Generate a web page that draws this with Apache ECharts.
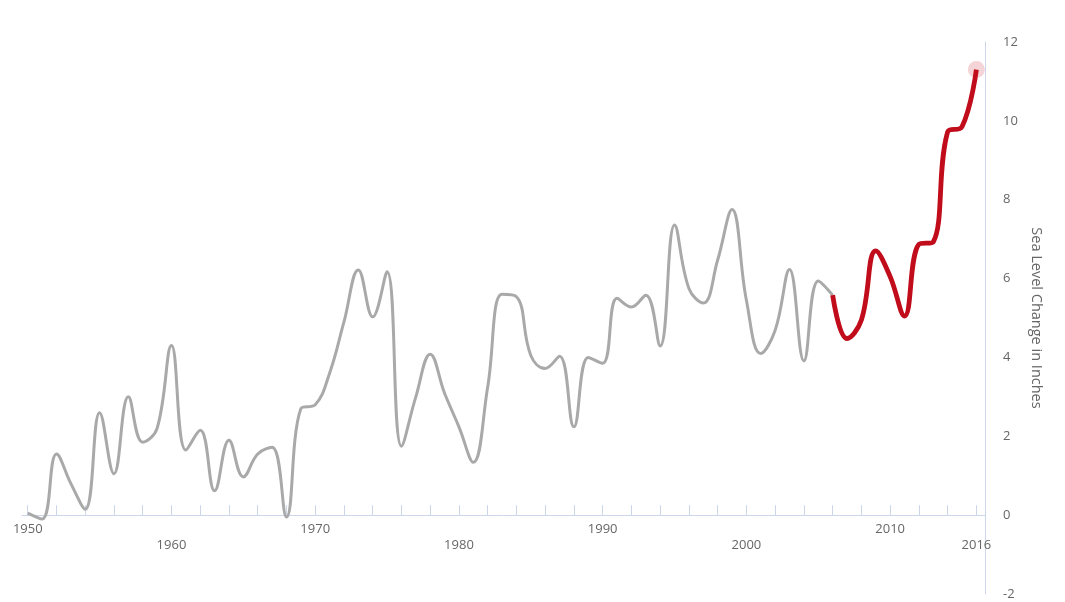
<!DOCTYPE html>
<html>
<head>
<meta charset="utf-8">
<script src="https://cdn.jsdelivr.net/npm/echarts@6/dist/echarts.min.js"></script>
<style>
html,body{margin:0;padding:0;background:#fff;}
#chart{width:1065px;height:602px;}
</style>
</head>
<body>
<div id="chart"></div>
<script>
// Historic (gray) series 1950-2006
const grayYears = [1950,1951,1952,1953,1954,1955,1956,1957,1958,1959,1960,1961,1962,1963,1964,1965,1966,1967,1968,1969,1970,1971,1972,1973,1974,1975,1976,1977,1978,1979,1980,1981,1982,1983,1984,1985,1986,1987,1988,1989,1990,1991,1992,1993,1994,1995,1996,1997,1998,1999,2000,2001,2002,2003,2004,2005,2006];
const grayValues = [0.05,-0.1,1.55,0.8,0.15,2.6,1.05,3.0,1.85,2.2,4.3,1.65,2.15,0.62,1.9,0.97,1.55,1.72,-0.05,2.7,2.8,3.6,4.9,6.22,5.03,6.17,1.75,3.0,4.08,3.09,2.24,1.34,3.25,5.6,5.54,4.05,3.72,4.03,2.24,4.0,3.85,5.5,5.28,5.58,4.29,7.36,5.75,5.38,6.47,7.75,5.45,4.1,4.69,6.23,3.91,5.94,5.58];
// Recent (red) series 2006-2016
const redYears = [2006,2007,2008,2009,2010,2011,2012,2013,2014,2015,2016];
const redValues = [5.58,4.48,4.95,6.7,6.05,5.05,6.87,6.93,9.72,9.85,11.3];
// Axis labels and ticks
const xLabelYears = [1950,1960,1970,1980,1990,2000,2010,2016];
const xTickYears = [1950,1952,1954,1956,1958,1960,1962,1964,1966,1968,1970,1972,1974,1976,1978,1980,1982,1984,1986,1988,1990,1992,1994,1996,1998,2000,2002,2004,2006,2008,2010,2012,2014,2016];
const yAxisTitle = 'Sea Level Change in Inches';

const zip = (xs, ys) => xs.map((x, i) => [x, ys[i]]);
const grayData = zip(grayYears, grayValues);
const redData = zip(redYears, redValues);
const lastPoint = redData[redData.length - 1];

const Y_MIN = -2, Y_MAX = 12;
const GRID_TOP = 42, GRID_BOTTOM = 8, H = 602;
const plotH = H - GRID_TOP - GRID_BOTTOM;
// move the x axis up so that it sits on the zero line
const xAxisOffset = -plotH * (0 - Y_MIN) / (Y_MAX - Y_MIN);

const FONT = '"Open Sans", "DejaVu Sans", sans-serif';
const chart = echarts.init(document.getElementById('chart'), null, {renderer: 'canvas'});
chart.setOption({
  animation: false,
  backgroundColor: '#ffffff',
  grid: {left: 22, right: 80, top: GRID_TOP, bottom: GRID_BOTTOM, containLabel: false, outerBoundsMode: 'none'},
  xAxis: {
    type: 'value',
    min: 1949.6,
    max: 2016.6,
    offset: xAxisOffset,
    splitLine: {show: false},
    axisLine: {show: true, onZero: false, lineStyle: {color: '#ccd6eb', width: 1}},
    axisTick: {show: true, inside: true, length: 10, customValues: xTickYears, lineStyle: {color: '#ccd6eb', width: 1}},
    axisLabel: {
      customValues: xLabelYears,
      color: '#666666',
      fontFamily: FONT,
      fontSize: 13,
      lineHeight: 16,
      margin: 6,
      formatter: function (v) {
        const idx = xLabelYears.indexOf(Math.round(v));
        return (idx % 2 === 1 ? '\n' : '') + Math.round(v);
      }
    }
  },
  yAxis: {
    type: 'value',
    position: 'right',
    min: Y_MIN,
    max: Y_MAX,
    interval: 2,
    splitLine: {show: false},
    axisLine: {show: true, lineStyle: {color: '#ccd6eb', width: 1}},
    axisTick: {show: false},
    axisLabel: {color: '#666666', fontFamily: FONT, fontSize: 13, margin: 18},
    name: yAxisTitle,
    nameLocation: 'middle',
    nameRotate: -90,
    nameGap: 44,
    nameTextStyle: {color: '#666666', fontFamily: FONT, fontSize: 14.5}
  },
  series: [
    {
      type: 'scatter',
      data: [lastPoint],
      symbol: 'circle',
      symbolSize: 17,
      itemStyle: {color: 'rgba(193,12,27,0.22)'},
      z: 1,
      silent: true
    },
    {
      type: 'line',
      data: grayData,
      smooth: 0.42,
      showSymbol: false,
      lineStyle: {color: '#a9a9a9', width: 3},
      z: 2
    },
    {
      type: 'line',
      data: redData,
      smooth: 0.42,
      showSymbol: false,
      lineStyle: {color: '#c10c1b', width: 4.8},
      z: 3
    }
  ]
});
</script>
</body>
</html>
